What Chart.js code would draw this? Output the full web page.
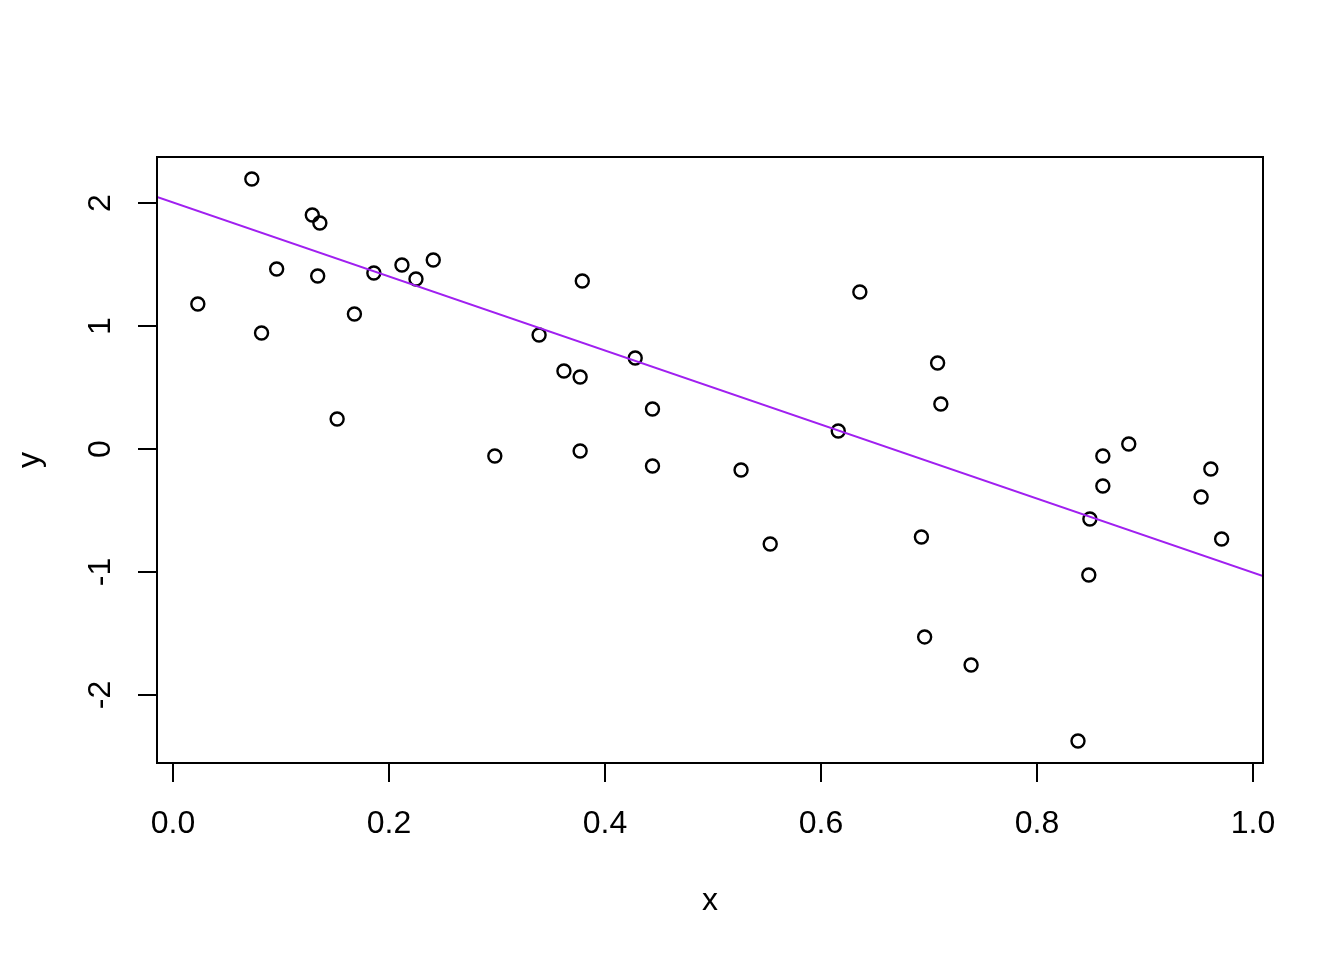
<!DOCTYPE html>
<html>
<head>
<meta charset="utf-8">
<script src="https://cdn.jsdelivr.net/npm/chart.js@4"></script>
<style>
  html, body { margin: 0; padding: 0; background: #fff; }
  #wrap { width: 1344px; height: 960px; }
</style>
</head>
<body>
<div id="wrap"><canvas id="plot" width="1344" height="960"></canvas></div>
<script>
// --- data ---
const xVals = [0.023, 0.073, 0.082, 0.096, 0.129, 0.136, 0.134, 0.152, 0.168, 0.186,
               0.212, 0.225, 0.241, 0.298, 0.339, 0.362, 0.377, 0.379, 0.377, 0.428,
               0.444, 0.444, 0.526, 0.553, 0.616, 0.636, 0.693, 0.696, 0.708, 0.711,
               0.739, 0.838, 0.848, 0.849, 0.861, 0.861, 0.885, 0.952, 0.961, 0.971];
const yVals = [1.179, 2.195, 0.943, 1.463, 1.902, 1.837, 1.407, 0.244, 1.098, 1.431,
               1.496, 1.382, 1.537, -0.057, 0.927, 0.634, 0.585, 1.366, -0.016, 0.740,
               0.325, -0.138, -0.171, -0.772, 0.146, 1.276, -0.715, -1.528, 0.699, 0.366,
               -1.756, -2.374, -1.024, -0.569, -0.057, -0.301, 0.041, -0.390, -0.163, -0.732];

// fitted line, end points at the edges of the plot region
const lineX = [-0.0148, 1.0093];
const lineY = [2.049, -1.033];

const xTicks = [0.0, 0.2, 0.4, 0.6, 0.8, 1.0];
const yTicks = [-2, -1, 0, 1, 2];

const xRange = [-0.0148, 1.0093];
const yRange = [-2.553, 2.374];

const FONT = "'Liberation Sans', Arial, sans-serif";

// frame around the plot region + rotated y tick labels (R style)
const rBox = {
    id: 'rBox',
    afterDraw(chart) {
        const { ctx, chartArea } = chart;
        ctx.save();
        ctx.strokeStyle = '#000';
        ctx.lineWidth = 2;
        ctx.strokeRect(chartArea.left, chartArea.top,
                       chartArea.right - chartArea.left, chartArea.bottom - chartArea.top);

        const ys = chart.scales.y;
        ctx.fillStyle = '#000';
        ctx.font = '32px ' + FONT;
        ctx.textAlign = 'center';
        ctx.textBaseline = 'middle';
        yTicks.forEach(v => {
            const py = ys.getPixelForValue(v);
            ctx.save();
            ctx.translate(101, py);
            ctx.rotate(-Math.PI / 2);
            ctx.fillText(String(v), 0, 0);
            ctx.restore();
        });
        ctx.restore();
    }
};

new Chart(document.getElementById('plot'), {
    type: 'scatter',
    data: {
        datasets: [
            {
                type: 'line',
                data: lineX.map((x, i) => ({ x: x, y: lineY[i] })),
                borderColor: '#A020F0',
                borderWidth: 2,
                pointRadius: 0,
                fill: false,
                order: 0
            },
            {
                data: xVals.map((x, i) => ({ x: x, y: yVals[i] })),
                pointStyle: 'circle',
                pointRadius: 6.5,
                borderWidth: 2.4,
                borderColor: '#000',
                backgroundColor: 'rgba(0,0,0,0)',
                order: 1
            }
        ]
    },
    options: {
        responsive: false,
        animation: false,
        layout: { padding: { left: 0, top: 157, right: 81, bottom: 0 } },
        plugins: {
            legend: { display: false },
            tooltip: { enabled: false }
        },
        scales: {
            x: {
                type: 'linear',
                min: xRange[0],
                max: xRange[1],
                afterFit(scale) { scale.height = 197; },
                afterBuildTicks(scale) { scale.ticks = xTicks.map(v => ({ value: v })); },
                grid: {
                    drawOnChartArea: false,
                    drawTicks: true,
                    tickLength: 19,
                    color: '#000',
                    lineWidth: 2
                },
                border: { display: false },
                ticks: {
                    color: '#000',
                    font: { family: FONT, size: 32 },
                    padding: 23,
                    maxRotation: 0,
                    callback: v => v.toFixed(1)
                },
                title: {
                    display: true,
                    text: 'x',
                    color: '#000',
                    font: { family: FONT, size: 32 },
                    padding: { top: 0, bottom: 40 }
                }
            },
            y: {
                type: 'linear',
                min: yRange[0],
                max: yRange[1],
                afterFit(scale) { scale.width = 157; },
                afterBuildTicks(scale) { scale.ticks = yTicks.map(v => ({ value: v })); },
                grid: {
                    drawOnChartArea: false,
                    drawTicks: true,
                    tickLength: 19,
                    color: '#000',
                    lineWidth: 2
                },
                border: { display: false },
                ticks: {
                    display: false
                },
                title: {
                    display: true,
                    text: 'y',
                    color: '#000',
                    font: { family: FONT, size: 32 },
                    padding: { top: 11, bottom: 0 }
                }
            }
        }
    },
    plugins: [rBox]
});
</script>
</body>
</html>
